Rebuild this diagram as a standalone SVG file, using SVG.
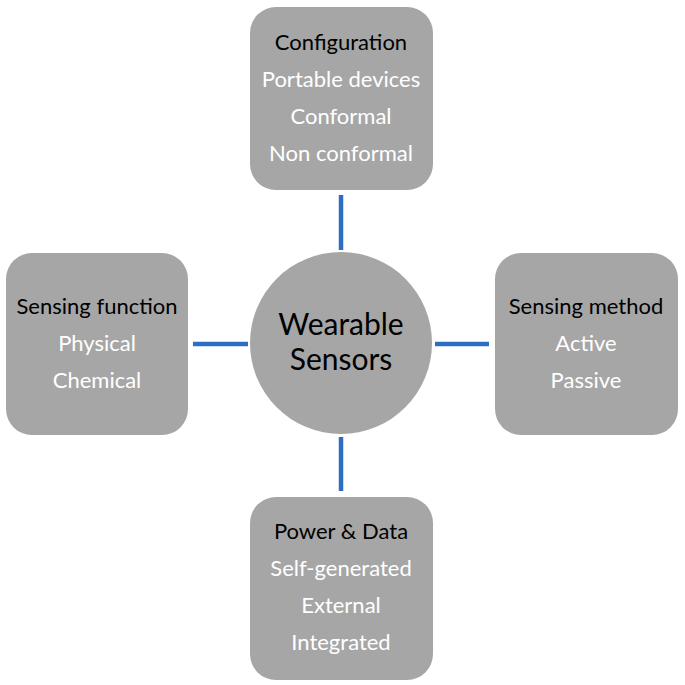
<svg xmlns="http://www.w3.org/2000/svg" width="685" height="685" viewBox="0 0 685 685">
<style>
.box{fill:#A6A6A6;}
.t{font-family:Lato,"Liberation Sans",sans-serif;font-size:22px;text-anchor:middle;}
.h{fill:#000;}
.w{fill:#fff;}
.c{font-family:Lato,"Liberation Sans",sans-serif;font-size:30px;text-anchor:middle;fill:#000;}
.ln{stroke:#2E6EC2;stroke-width:4.5;fill:none;}
</style>
<rect width="685" height="685" fill="#fff"/>
<g id="connectors">
<line class="ln" x1="341" y1="195" x2="341" y2="250"/>
<line class="ln" x1="341" y1="437" x2="341" y2="491"/>
<line class="ln" x1="193" y1="344" x2="248" y2="344"/>
<line class="ln" x1="435" y1="344" x2="489" y2="344"/>
</g>
<g id="center">
<circle cx="341" cy="343" r="91" class="box"/>
<text class="c" x="341" y="335">Wearable</text>
<text class="c" x="341" y="370">Sensors</text>
</g>
<g id="configuration">
<rect class="box" x="250" y="7" width="183" height="183" rx="26"/>
<text class="t h" x="341" y="50">Configuration</text>
<text class="t w" x="341" y="87">Portable devices</text>
<text class="t w" x="341" y="124">Conformal</text>
<text class="t w" x="341" y="161">Non conformal</text>
</g>
<g id="sensing-function">
<rect class="box" x="6" y="253" width="182" height="182" rx="26"/>
<text class="t h" x="97" y="314">Sensing function</text>
<text class="t w" x="97" y="351">Physical</text>
<text class="t w" x="97" y="388">Chemical</text>
</g>
<g id="sensing-method">
<rect class="box" x="495" y="253" width="183" height="182" rx="26"/>
<text class="t h" x="586" y="314">Sensing method</text>
<text class="t w" x="586" y="351">Active</text>
<text class="t w" x="586" y="388">Passive</text>
</g>
<g id="power-data">
<rect class="box" x="250" y="497" width="183" height="183" rx="26"/>
<text class="t h" x="341" y="539">Power &amp; Data</text>
<text class="t w" x="341" y="576">Self-generated</text>
<text class="t w" x="341" y="613">External</text>
<text class="t w" x="341" y="650">Integrated</text>
</g>
</svg>
